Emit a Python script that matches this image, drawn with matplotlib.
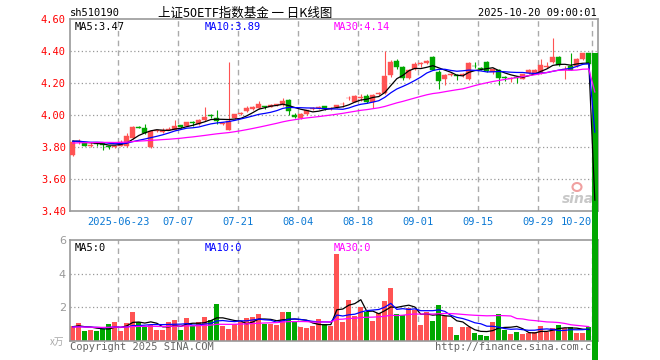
import numpy as np
import pandas as pd
import matplotlib
matplotlib.use('Agg')
import matplotlib.pyplot as plt
from matplotlib.patches import Ellipse

# 交易日（国庆假期休市）
dates = pd.bdate_range('2025-06-11', '2025-10-20')
dates = dates[(dates < '2025-10-01') | (dates > '2025-10-08')]

# 6-11 之前的收盘价和成交量，只用来算均线
prev_close = [3.78, 3.79, 3.80, 3.79, 3.81, 3.80, 3.82, 3.81, 3.83, 3.82,
              3.84, 3.83, 3.82, 3.84, 3.83, 3.85, 3.84, 3.83, 3.82, 3.84,
              3.83, 3.85, 3.84, 3.82, 3.83, 3.85, 3.84, 3.83, 3.84]
prev_vol = [0.70, 0.85, 0.90, 0.75, 0.80, 0.95, 0.70, 0.65, 0.85, 0.90,
            0.75, 0.80, 0.70, 0.85, 0.95, 0.80, 0.75, 0.70, 0.85, 0.90,
            0.80, 0.75, 0.85, 0.70, 0.90, 0.80, 0.85, 0.75, 0.90]

opens = [3.75, 3.835, 3.827, 3.81, 3.825, 3.825, 3.808, 3.80, 3.81, 3.81,
         3.86, 3.927, 3.92, 3.80, 3.90, 3.895, 3.91, 3.91, 3.937, 3.935,
         3.957, 3.945, 3.97, 3.998, 3.98, 3.945, 3.906, 3.98, 4.005, 4.025,
         4.04, 4.045, 4.055, 4.052, 4.062, 4.065, 4.094, 4.00, 3.985, 4.01,
         4.04, 4.045, 4.056, 4.04, 4.048, 4.067, 4.105, 4.085, 4.108, 4.12,
         4.085, 4.133, 4.136, 4.25, 4.34, 4.30, 4.235, 4.288, 4.322, 4.325,
         4.367, 4.27, 4.225, 4.254, 4.252, 4.254, 4.225, 4.31, 4.295, 4.333,
         4.267, 4.283, 4.236, 4.227, 4.238, 4.229, 4.263, 4.265, 4.2625, 4.30,
         4.33, 4.367, 4.285, 4.308, 4.308, 4.35, 4.3875, 4.39]
closes = [3.83, 3.84, 3.81, 3.815, 3.82, 3.815, 3.802, 3.81, 3.835, 3.87,
          3.927, 3.922, 3.89, 3.90, 3.905, 3.91, 3.915, 3.935, 3.925, 3.955,
          3.953, 3.97, 3.99, 3.994, 3.965, 3.95, 3.964, 4.005, 4.015, 4.045,
          4.05, 4.072, 4.05, 4.065, 4.067, 4.09, 4.027, 3.99, 4.01, 4.03,
          4.045, 4.05, 4.036, 4.045, 4.062, 4.07, 4.11, 4.12, 4.112, 4.085,
          4.127, 4.138, 4.246, 4.33, 4.30, 4.23, 4.283, 4.32, 4.325, 4.34,
          4.28, 4.215, 4.25, 4.258, 4.248, 4.258, 4.325, 4.305, 4.29, 4.277,
          4.288, 4.235, 4.232, 4.23, 4.233, 4.256, 4.283, 4.285, 4.3125, 4.31,
          4.367, 4.3125, 4.29, 4.283, 4.35, 4.3875, 4.32, 0.0]
highs = [3.845, 3.85, 3.83, 3.83, 3.83, 3.83, 3.81, 3.815, 3.845, 3.89,
         3.93, 3.93, 3.945, 3.905, 3.91, 3.92, 3.925, 3.97, 3.94, 3.96,
         3.965, 3.975, 4.05, 4.005, 4.035, 3.955, 4.335, 4.01, 4.02, 4.06,
         4.06, 4.09, 4.06, 4.07, 4.072, 4.11, 4.10, 4.015, 4.015, 4.035,
         4.05, 4.055, 4.06, 4.05, 4.065, 4.08, 4.12, 4.125, 4.13, 4.13,
         4.13, 4.145, 4.40, 4.345, 4.35, 4.31, 4.29, 4.33, 4.33, 4.345,
         4.37, 4.28, 4.255, 4.265, 4.26, 4.265, 4.33, 4.335, 4.30, 4.34,
         4.295, 4.29, 4.245, 4.24, 4.245, 4.26, 4.29, 4.29, 4.35, 4.33,
         4.485, 4.37, 4.305, 4.39, 4.355, 4.39, 4.39, 4.39]
lows = [3.745, 3.82, 3.805, 3.80, 3.81, 3.78, 3.79, 3.795, 3.805, 3.80,
        3.85, 3.92, 3.885, 3.795, 3.895, 3.89, 3.905, 3.905, 3.92, 3.93,
        3.935, 3.94, 3.965, 3.985, 3.945, 3.94, 3.906, 3.975, 4.00, 4.02,
        4.035, 4.04, 4.04, 4.048, 4.058, 4.06, 4.00, 3.98, 3.975, 4.00,
        4.035, 4.04, 4.03, 4.03, 4.045, 4.05, 4.095, 4.08, 4.09, 4.075,
        4.045, 4.125, 4.13, 4.24, 4.29, 4.22, 4.225, 4.285, 4.30, 4.32,
        4.28, 4.165, 4.19, 4.245, 4.22, 4.24, 4.22, 4.295, 4.28, 4.27,
        4.26, 4.19, 4.215, 4.21, 4.20, 4.225, 4.255, 4.26, 4.255, 4.295,
        4.325, 4.305, 4.225, 4.28, 4.30, 4.345, 4.31, 0.0]
volumes = [0.87, 1.07, 0.58, 0.64, 0.58, 0.68, 1.00, 1.11, 0.58, 1.05,
           1.71, 1.11, 0.80, 0.94, 0.64, 0.64, 1.11, 1.23, 0.64, 1.35,
           0.87, 1.11, 1.41, 1.23, 2.19, 0.87, 0.70, 1.00, 1.11, 1.35,
           1.41, 1.59, 1.00, 1.00, 0.94, 1.71, 1.71, 1.11, 0.82, 0.76,
           0.87, 1.29, 1.00, 0.87, 5.17, 1.11, 2.43, 1.47, 2.03, 1.71,
           1.17, 1.65, 2.37, 3.14, 1.59, 1.53, 1.95, 1.83, 0.95, 1.71,
           1.17, 2.13, 1.47, 0.82, 0.34, 0.82, 0.82, 0.46, 0.34, 0.28,
           1.11, 1.59, 0.64, 0.40, 0.52, 0.40, 0.46, 0.52, 0.87, 0.52,
           0.76, 0.94, 0.76, 0.82, 0.46, 0.46, 0.82, np.nan]

price_ticks = [3.40, 3.60, 3.80, 4.00, 4.20, 4.40, 4.60]
vol_ticks = [2, 4, 6]
date_labels = ['2025-06-23', '07-07', '07-21', '08-04', '08-18',
               '09-01', '09-15', '09-29', '10-20']

RED = '#ff5353'
GREEN = '#00a800'
MONO = 'DejaVu Sans Mono'
CJK = ['Noto Sans CJK SC', 'DejaVu Sans']

n = len(dates)
x = np.arange(n)
o = np.array(opens)
c = np.array(closes)
h = np.array(highs)
l = np.array(lows)
v = np.array(volumes)
up = c >= o
colors = np.where(up, RED, GREEN)

all_close = pd.Series(prev_close + closes)
all_vol = pd.Series(prev_vol + volumes)
ma_close = {k: all_close.rolling(k).mean().values[-n:] for k in (5, 10, 30)}
ma_vol = {k: all_vol.rolling(k, min_periods=k).mean().values[-n:] for k in (5, 10, 30)}
ma_colors = {5: 'black', 10: '#0000ff', 30: '#ff00ff'}

fig = plt.figure(figsize=(6.6, 3.6), dpi=100)
W, H = 660, 360
ax = fig.add_axes([70 / W, (H - 211) / H, 528 / W, 191.7 / H])
axv = fig.add_axes([70 / W, (H - 340.7) / H, 528 / W, 100.7 / H])
ax.set_zorder(5)
ax.patch.set_visible(False)

xlim = (-0.467, 87.53)
grid_x = [i - 0.417 for i in range(n)]
tick_idx = [list(dates.strftime('%m-%d')).index(d[-5:]) for d in date_labels]

for a in (ax, axv):
    a.set_xlim(*xlim)
    for sp in a.spines.values():
        sp.set_color('#999999')
        sp.set_linewidth(1.2)
    a.set_xticks([])
    a.tick_params(axis='y', length=0, pad=3)
    for i in tick_idx:
        a.axvline(grid_x[i], color='#aaaaaa', lw=1, ls=(0, (4, 3)), zorder=0)

# K线
body_w = 0.833
body_h = np.maximum(np.abs(c - o), 0.004)
ax.vlines(x[:-1], l[:-1], h[:-1], colors=colors[:-1], lw=0.8, zorder=2)
ax.bar(x[:-1], body_h[:-1], bottom=np.minimum(o, c)[:-1], width=body_w,
       color=colors[:-1], edgecolor=colors[:-1], lw=0.3, zorder=3)
# 最后一根跌出图外
ax.bar(x[-1], o[-1] - c[-1], bottom=c[-1], width=0.9, color=GREEN,
       lw=0, zorder=3, clip_on=False)
for k in (5, 10, 30):
    ax.plot(x, ma_close[k], color=ma_colors[k], lw=0.9, zorder=4)
ax.set_ylim(3.40, 4.60)
ax.set_yticks(price_ticks)
ax.set_yticklabels([f'{t:.2f}' for t in price_ticks], color='red',
                   fontfamily=MONO, fontsize=7.5)
for t in price_ticks[1:-1]:
    ax.axhline(t, color='#999999', lw=0.9, ls=(0, (1, 2)), zorder=0)

for j, i in enumerate(tick_idx):
    ha = 'right' if j == len(tick_idx) - 1 else 'center'
    xx = grid_x[i] if ha == 'center' else grid_x[i] - 0.1
    ax.text(xx, -0.03, date_labels[j], transform=ax.get_xaxis_transform(),
            ha=ha, va='top', color='#0a78d4', fontfamily=MONO, fontsize=7.5)

ax.text(0.008, 0.985, f'MA5:{ma_close[5][-1]:.2f}', transform=ax.transAxes,
        va='top', fontfamily=MONO, fontsize=7.5, color='black')
ax.text(0.255, 0.985, f'MA10:{ma_close[10][-1]:.2f}', transform=ax.transAxes,
        va='top', fontfamily=MONO, fontsize=7.5, color='#0000ff')
ax.text(0.5, 0.985, f'MA30:{ma_close[30][-1]:.2f}', transform=ax.transAxes,
        va='top', fontfamily=MONO, fontsize=7.5, color='#ff00ff')

# 成交量
axv.bar(x, np.nan_to_num(v), width=body_w, color=colors, lw=0, zorder=2)
for k in (5, 10, 30):
    axv.plot(x, ma_vol[k], color=ma_colors[k], lw=0.9, zorder=3)
axv.set_ylim(0, 6)
axv.set_yticks(vol_ticks)
axv.set_yticklabels([str(t) for t in vol_ticks], color='#999999', fontsize=8)
for t in vol_ticks[:-1]:
    axv.axhline(t, color='#999999', lw=0.9, ls=(0, (1, 2)), zorder=0)
axv.text(0.008, 0.97, 'MA5:0', transform=axv.transAxes, va='top',
         fontfamily=MONO, fontsize=7.5, color='black')
axv.text(0.255, 0.97, 'MA10:0', transform=axv.transAxes, va='top',
         fontfamily=MONO, fontsize=7.5, color='#0000ff')
axv.text(0.5, 0.97, 'MA30:0', transform=axv.transAxes, va='top',
         fontfamily=MONO, fontsize=7.5, color='#ff00ff')

# 标题和版权
fig.text(70 / W, 1 - 13 / H, 'sh510190', fontfamily=MONO, fontsize=7.5, va='center')
fig.text(245 / W, 1 - 13 / H, '上证50ETF指数基金 一 日K线图', family=CJK,
         fontsize=9, ha='center', va='center')
fig.text(597 / W, 1 - 13 / H, '2025-10-20 09:00:01', fontfamily=MONO,
         fontsize=7.5, ha='right', va='center')
fig.text(64 / W, 1 - 342 / H, 'x万', family=CJK, fontsize=7, color='#aaaaaa',
         ha='right', va='center', style='italic')
fig.text(70 / W, 1 - 347 / H, 'Copyright 2025 SINA.COM', fontfamily=MONO,
         fontsize=7.5, color='#666666', va='center')
fig.text(591 / W, 1 - 347 / H, 'http://finance.sina.com.c', fontfamily=MONO,
         fontsize=7.5, color='#666666', ha='right', va='center')
# 水印
fig.text(578 / W, 1 - 199 / H, 'sina', fontsize=10, color='#c8c8c8',
         style='italic', weight='bold', ha='center', va='center')
fig.add_artist(Ellipse((577 / W, 1 - 187 / H), 9 / W, 8 / H,
                       transform=fig.transFigure, facecolor='none',
                       edgecolor='#f0a0a0', lw=1.5))

fig.savefig('out.png', dpi=100)
